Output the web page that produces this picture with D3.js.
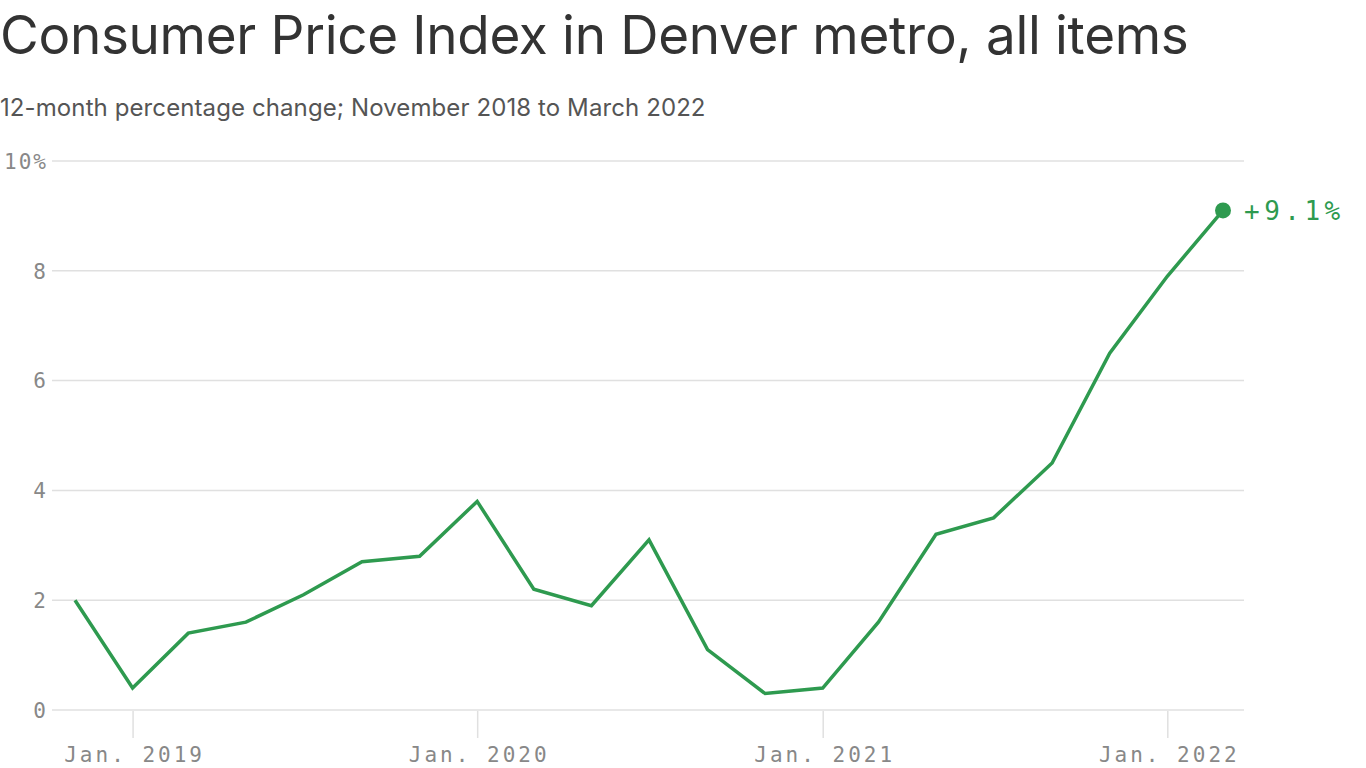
<!DOCTYPE html>
<html>
<head>
<meta charset="utf-8">
<script src="https://cdn.jsdelivr.net/npm/d3@7"></script>
<style>
  html, body { margin: 0; padding: 0; background: #fff; }
  svg { display: block; }
</style>
</head>
<body>
<svg id="chart" width="1366" height="768"></svg>
<script>
const months = ["2018-11","2019-01","2019-03","2019-05","2019-07","2019-09","2019-11",
  "2020-01","2020-03","2020-05","2020-07","2020-09","2020-11",
  "2021-01","2021-03","2021-05","2021-07","2021-09","2021-11",
  "2022-01","2022-03"];
const cpiChange = [2.0,0.4,1.4,1.6,2.1,2.7,2.8,3.8,2.2,1.9,3.1,1.1,0.3,0.4,1.6,3.2,3.5,4.5,6.5,7.9,9.1];
const yTicks = [0,2,4,6,8,10];
const xTickDates = ["2019-01","2020-01","2021-01","2022-01"];
const xTickLabels = ["Jan. 2019","Jan. 2020","Jan. 2021","Jan. 2022"];
const titleText = "Consumer Price Index in Denver metro, all items";
const subtitleText = "12-month percentage change; November 2018 to March 2022";
const endLabel = "+9.1%";

const parse = d3.timeParse("%Y-%m");
const data = months.map((m, i) => ({date: parse(m), value: cpiChange[i]}));

const svg = d3.select("#chart");
const green = "#2e9a4f";
const monoFont = "'DejaVu Sans Mono', 'Liberation Mono', monospace";

const x = d3.scaleTime().domain([parse("2018-11"), parse("2022-03")]).range([75, 1223]);
const y = d3.scaleLinear().domain([0, 10]).range([710, 161]);

svg.append("text").attr("x", 0).attr("y", 54)
  .attr("font-family", "Inter, Roboto, sans-serif").attr("font-size", 53)
  .attr("fill", "#333").attr("letter-spacing", -0.3).text(titleText);
svg.append("text").attr("x", 0).attr("y", 116)
  .attr("font-family", "Inter, Roboto, sans-serif").attr("font-size", 24)
  .attr("fill", "#555").attr("letter-spacing", 0.1).text(subtitleText);

const yAxis = d3.axisLeft(y).tickValues(yTicks).tickSize(0)
  .tickFormat(d => d === 10 ? "10%" : d);
const gy = svg.append("g").attr("transform", "translate(48,0)").call(yAxis);
gy.select(".domain").remove();
gy.selectAll("text").attr("font-family", monoFont).attr("font-size", 21)
  .attr("fill", "#888").attr("x", 0).attr("dy", "0.35em").attr("letter-spacing", 2);

svg.append("g").selectAll("line").data(yTicks).join("line")
  .attr("x1", 52).attr("x2", 1244)
  .attr("y1", d => y(d)).attr("y2", d => y(d))
  .attr("stroke", "#e0e0e0").attr("stroke-width", 1.5);

const xAxis = d3.axisBottom(x).tickValues(xTickDates.map(parse))
  .tickSize(27).tickPadding(9)
  .tickFormat((d, i) => xTickLabels[i]);
const gx = svg.append("g").attr("transform", `translate(0,${y(0) + 1})`).call(xAxis);
gx.select(".domain").remove();
gx.selectAll(".tick line").attr("stroke", "#e0e0e0").attr("stroke-width", 1.5);
gx.selectAll("text").attr("font-family", monoFont).attr("font-size", 21)
  .attr("fill", "#888").attr("letter-spacing", 3).attr("dx", 1.5);

const line = d3.line().x(d => x(d.date)).y(d => y(d.value));
svg.append("path").datum(data).attr("d", line)
  .attr("fill", "none").attr("stroke", green).attr("stroke-width", 3.5)
  .attr("stroke-linejoin", "miter");

const last = data[data.length - 1];
svg.append("circle").attr("cx", x(last.date)).attr("cy", y(last.value)).attr("r", 8)
  .attr("fill", green);
svg.append("text").attr("x", x(last.date) + 21).attr("y", y(last.value))
  .attr("dy", "0.35em").attr("font-family", monoFont).attr("font-size", 26)
  .attr("fill", green).attr("letter-spacing", 4.5).text(endLabel);
</script>
</body>
</html>
